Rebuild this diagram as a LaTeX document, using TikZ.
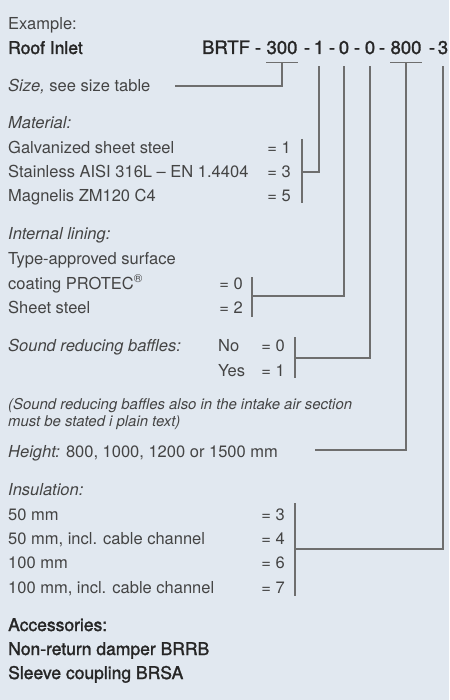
\documentclass[tikz,border=0pt]{standalone}
\usepackage{fontspec}
\setmainfont{TeX Gyre Heros}
\newfontfamily\medfont{TeX Gyre Heros}[FakeBold=1.6]
\usepackage{tikz}
\usetikzlibrary{positioning}

\definecolor{bg}{HTML}{E1E8F0}
\definecolor{ink}{HTML}{444444}
\definecolor{inkdark}{HTML}{262626}
\definecolor{leadgray}{HTML}{6E6E6E}

\newcommand{\basefont}{\fontsize{16.5}{20}\selectfont}
\newcommand{\boldfont}{\fontsize{17.5}{21}\selectfont\medfont}

\begin{document}
\begin{tikzpicture}[
    x=1pt, y=-1pt,
    txt/.style={anchor=base west, inner sep=0pt, text=ink, font=\basefont},
    head/.style={txt, font=\basefont\itshape},
    strong/.style={txt, text=inkdark, font=\boldfont},
    code/.style={anchor=base, inner sep=0pt, text=inkdark, font=\fontsize{18.5}{22}\selectfont\medfont},
    val/.style={anchor=base east, inner sep=0pt, text=ink, font=\basefont},
    note/.style={txt, font=\fontsize{14.9}{18}\selectfont\itshape},
    lead/.style={draw=leadgray, line width=1.2pt}
]
    \useasboundingbox[fill=bg] (0,0) rectangle (449,700);

    % heading and code
    \node[txt] (example) at (8,30) {Example:};
    \node[strong] (roof) at (8,54) {Roof Inlet};
    \node[code] (cbrtf) at (226,54) {BRTF};
    \node[code] at (258,54) {-};
    \node[code] (c300) at (282,54) {300};
    \node[code] at (307,54) {-};
    \node[code] (c1) at (319,54) {1};
    \node[code] at (332,54) {-};
    \node[code] (clin) at (344,54) {0};
    \node[code] at (357,54) {-};
    \node[code] (cbaf) at (370,54) {0};
    \node[code] at (382,54) {-};
    \node[code] (c800) at (406,54) {800};
    \node[code] at (432,54) {-};
    \node[code] (c3) at (443,54) {3};

    % size
    \node[txt] (size) at (8,92) {\textit{Size,} see size table};
    \coordinate (size end) at (175,86);

    % material
    \node[head] (mat) at (8,129) {Material:};
    \node[txt] (mat1) at (8,154) {Galvanized sheet steel};
    \node[txt] (mat3) at (8,178) {Stainless AISI 316L – EN 1.4404};
    \node[txt] (mat5) at (8,202) {Magnelis ZM120 C4};
    \node[val] (v1) at (291,154) {= 1};
    \node[val] (v3) at (291,178) {= 3};
    \node[val] (v5) at (291,202) {= 5};
    \coordinate (mat top) at (302,139);
    \coordinate (mat mid) at (302,172);
    \coordinate (mat bot) at (302,203);

    % internal lining
    \node[head] (lin) at (8,240) {Internal lining:};
    \node[txt] (lin0a) at (8,265) {Type-approved surface};
    \node[txt] (lin0b) at (8,289) {coating PROTEC\textsuperscript{®}};
    \node[txt] (lin2) at (8,313) {Sheet steel};
    \node[val] (l0) at (243,289) {= 0};
    \node[val] (l2) at (243,313) {= 2};
    \coordinate (lin top) at (252,277);
    \coordinate (lin mid) at (252,296);
    \coordinate (lin bot) at (252,317);

    % sound reducing baffles
    \node[head] (baf) at (8,351) {Sound reducing baffles:};
    \node[txt] (no) at (218,351) {No};
    \node[txt] (yes) at (218,376) {Yes};
    \node[val] (b0) at (285,351) {= 0};
    \node[val] (b1) at (285,376) {= 1};
    \coordinate (baf top) at (295,337);
    \coordinate (baf mid) at (295,358);
    \coordinate (baf bot) at (295,378);
    \node[note] (note1) at (8,409) {(Sound reducing baffles also in the intake air section};
    \node[note] (note2) at (8,426) {must be stated i plain text)};

    % height
    \node[txt] (height) at (8,457) {\textit{Height:} 800, 1000, 1200 or 1500 mm};
    \coordinate (height end) at (315,450);

    % insulation
    \node[head] (ins) at (8,495) {Insulation:};
    \node[txt] (ins3) at (8,520) {50 mm};
    \node[txt] (ins4) at (8,544) {50 mm, incl. cable channel};
    \node[txt] (ins6) at (8,568) {100 mm};
    \node[txt] (ins7) at (8,593) {100 mm, incl. cable channel};
    \node[val] (i3) at (285,520) {= 3};
    \node[val] (i4) at (285,544) {= 4};
    \node[val] (i6) at (285,568) {= 6};
    \node[val] (i7) at (285,593) {= 7};
    \coordinate (ins top) at (295,503);
    \coordinate (ins mid) at (295,549);
    \coordinate (ins bot) at (295,596);

    % accessories
    \node[strong] (acc) at (8,631) {Accessories:};
    \node[strong] (brrb) at (8,655) {Non-return damper BRRB};
    \node[strong] (brsa) at (8,679) {Sleeve coupling BRSA};

    % leaders
    \draw[lead] ([yshift=-8pt]c300.south west) -- ([yshift=-8pt]c300.south east);
    \draw[lead] ([yshift=-8pt]c300.south) |- (size end);
    \draw[lead] (mat top) -- (mat bot);
    \draw[lead] ([yshift=-12pt]c1.south) |- (mat mid);
    \draw[lead] (lin top) -- (lin bot);
    \draw[lead] ([yshift=-12pt]clin.south) |- (lin mid);
    \draw[lead] (baf top) -- (baf bot);
    \draw[lead] ([yshift=-12pt]cbaf.south) |- (baf mid);
    \draw[lead] ([yshift=-8pt]c800.south west) -- ([yshift=-8pt]c800.south east);
    \draw[lead] ([yshift=-8pt]c800.south) |- (height end);
    \draw[lead] (ins top) -- (ins bot);
    \draw[lead] ([yshift=-12pt]c3.south) |- (ins mid);
\end{tikzpicture}
\end{document}
